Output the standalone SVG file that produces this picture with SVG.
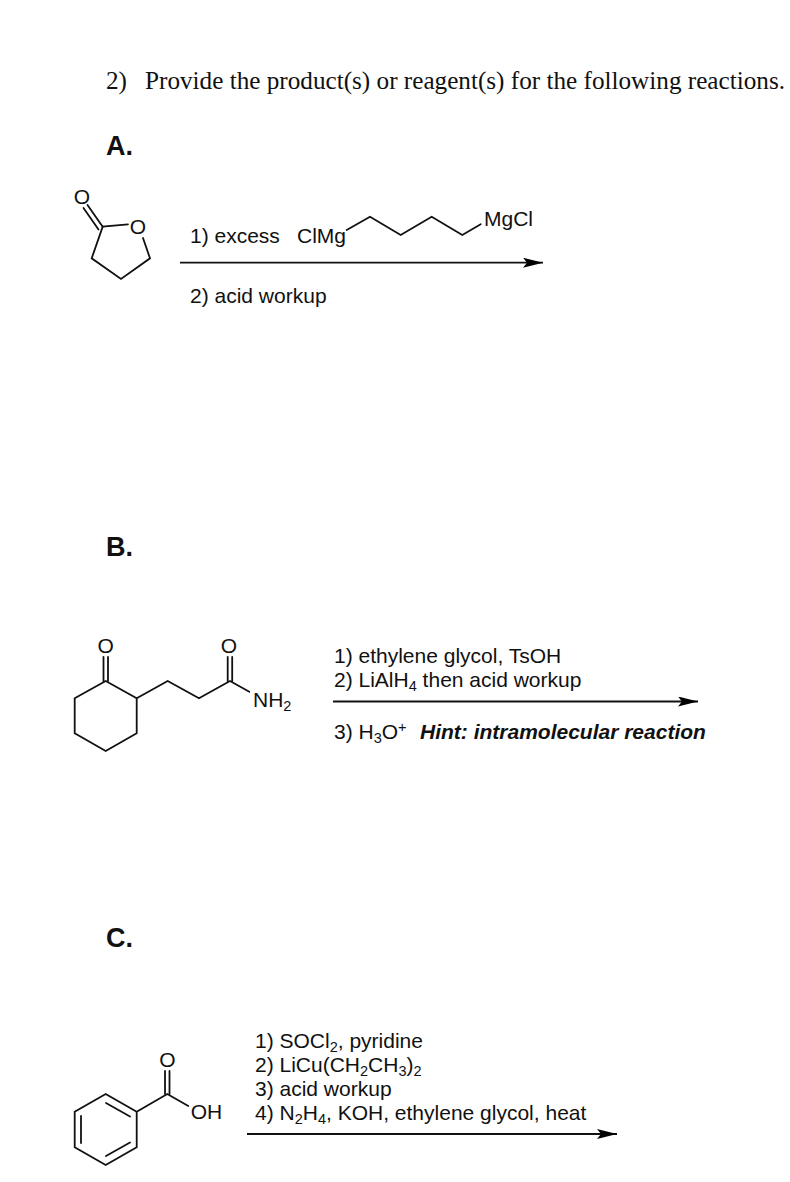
<svg xmlns="http://www.w3.org/2000/svg" width="790" height="1182" viewBox="0 0 790 1182">
<defs>
<marker id="ah" markerUnits="userSpaceOnUse" markerWidth="22" markerHeight="12" refX="20" refY="5" orient="auto"><path d="M0 0L20 5L0 10L4 5Z" fill="#000"/></marker>
</defs>
<style>
text{font-family:"Liberation Sans",Arial,sans-serif;font-size:21px;fill:#111}
.t{font-family:"Liberation Serif","Times New Roman",serif;font-size:25.2px}
.h{font-size:27px;font-weight:bold}
.s{font-size:14.5px}
.b{fill:none;stroke:#111;stroke-width:1.8;stroke-linejoin:miter;stroke-linecap:round}
.r{fill:none;stroke:#111;stroke-width:1.8}
</style>
<rect width="790" height="1182" fill="#fff"/>
<text class="t" x="106" y="89">2)<tspan x="145">Provide the product(s) or reagent(s) for the following reactions.</tspan></text>
<text class="h" x="106" y="155">A.</text>
<text class="h" x="106" y="556">B.</text>
<text class="h" x="106" y="947">C.</text>
<g id="lactone">
<path class="b" d="M128 224.300L102.700 226.700L91.700 258.300L121 279L150 258.300L143 238"/>
<path class="b" d="M102.700 226.700L87.500 205M98.500 229.500L83.500 208"/>
<text x="82" y="204" text-anchor="middle">O</text>
<text x="138" y="234" text-anchor="middle">O</text>
</g>
<g id="grignard">
<path class="b" d="M346.700 230L370 216.700L400.700 235L431.700 216.700L462.300 235L480.700 224.300"/>
<text x="297" y="243">ClMg</text>
<text x="484" y="226">MgCl</text>
</g>
<g id="amide">
<path class="b" d="M105.700 681L136.700 698.300V733.300L105.700 751L74.700 733.300V698.300ZM136.700 698.300L167.700 681L199 698.300L230 681L249.300 691.700"/>
<path class="b" d="M103.500 681V657M108 681V657M227.700 681V657M232.200 681V657"/>
<text x="105.700" y="653" text-anchor="middle">O</text>
<text x="229" y="653" text-anchor="middle">O</text>
<text x="253" y="706.500">NH<tspan class="s" dy="4">2</tspan></text>
</g>
<g id="benzoic">
<path class="b" d="M105.700 1094L136.700 1111.700V1147.300L105.700 1165L74.700 1147.300V1111.700ZM136.700 1111.700L167.300 1094L188.300 1106"/>
<path class="b" d="M106 1103L130 1116.500M130 1142.500L106 1156M81 1116V1143"/>
<path class="b" d="M165 1094V1071M169.500 1094V1071"/>
<text x="167.300" y="1067" text-anchor="middle">O</text>
<text x="190.700" y="1119">OH</text>
</g>
<g id="connectors">
<path class="r" d="M180 262.700H543" marker-end="url(#ah)"/>
<path class="r" d="M333 701.500H698" marker-end="url(#ah)"/>
<path class="r" d="M247 1134H617" marker-end="url(#ah)"/>
</g>
<g id="conditions-a">
<text x="190" y="243">1) excess</text>
<text x="190" y="303">2) acid workup</text>
</g>
<g id="conditions-b">
<text x="334" y="662.500">1) ethylene glycol, TsOH</text>
<text x="334" y="686.500">2) LiAlH<tspan class="s" dy="4">4</tspan><tspan dy="-4"> then acid workup</tspan></text>
<text x="334" y="738.500">3) H<tspan class="s" dy="4">3</tspan><tspan dy="-4">O</tspan><tspan class="s" dy="-7">+</tspan></text>
<text x="420" y="739" font-weight="bold" font-style="italic">Hint: intramolecular reaction</text>
</g>
<g id="conditions-c">
<text x="255" y="1047.500">1) SOCl<tspan class="s" dy="4">2</tspan><tspan dy="-4">, pyridine</tspan></text>
<text x="255" y="1071.500">2) LiCu(CH<tspan class="s" dy="4">2</tspan><tspan dy="-4">CH</tspan><tspan class="s" dy="4">3</tspan><tspan dy="-4">)</tspan><tspan class="s" dy="4">2</tspan></text>
<text x="255" y="1095.500">3) acid workup</text>
<text x="255" y="1119.500">4) N<tspan class="s" dy="4">2</tspan><tspan dy="-4">H</tspan><tspan class="s" dy="4">4</tspan><tspan dy="-4">, KOH, ethylene glycol, heat</tspan></text>
</g>
</svg>
